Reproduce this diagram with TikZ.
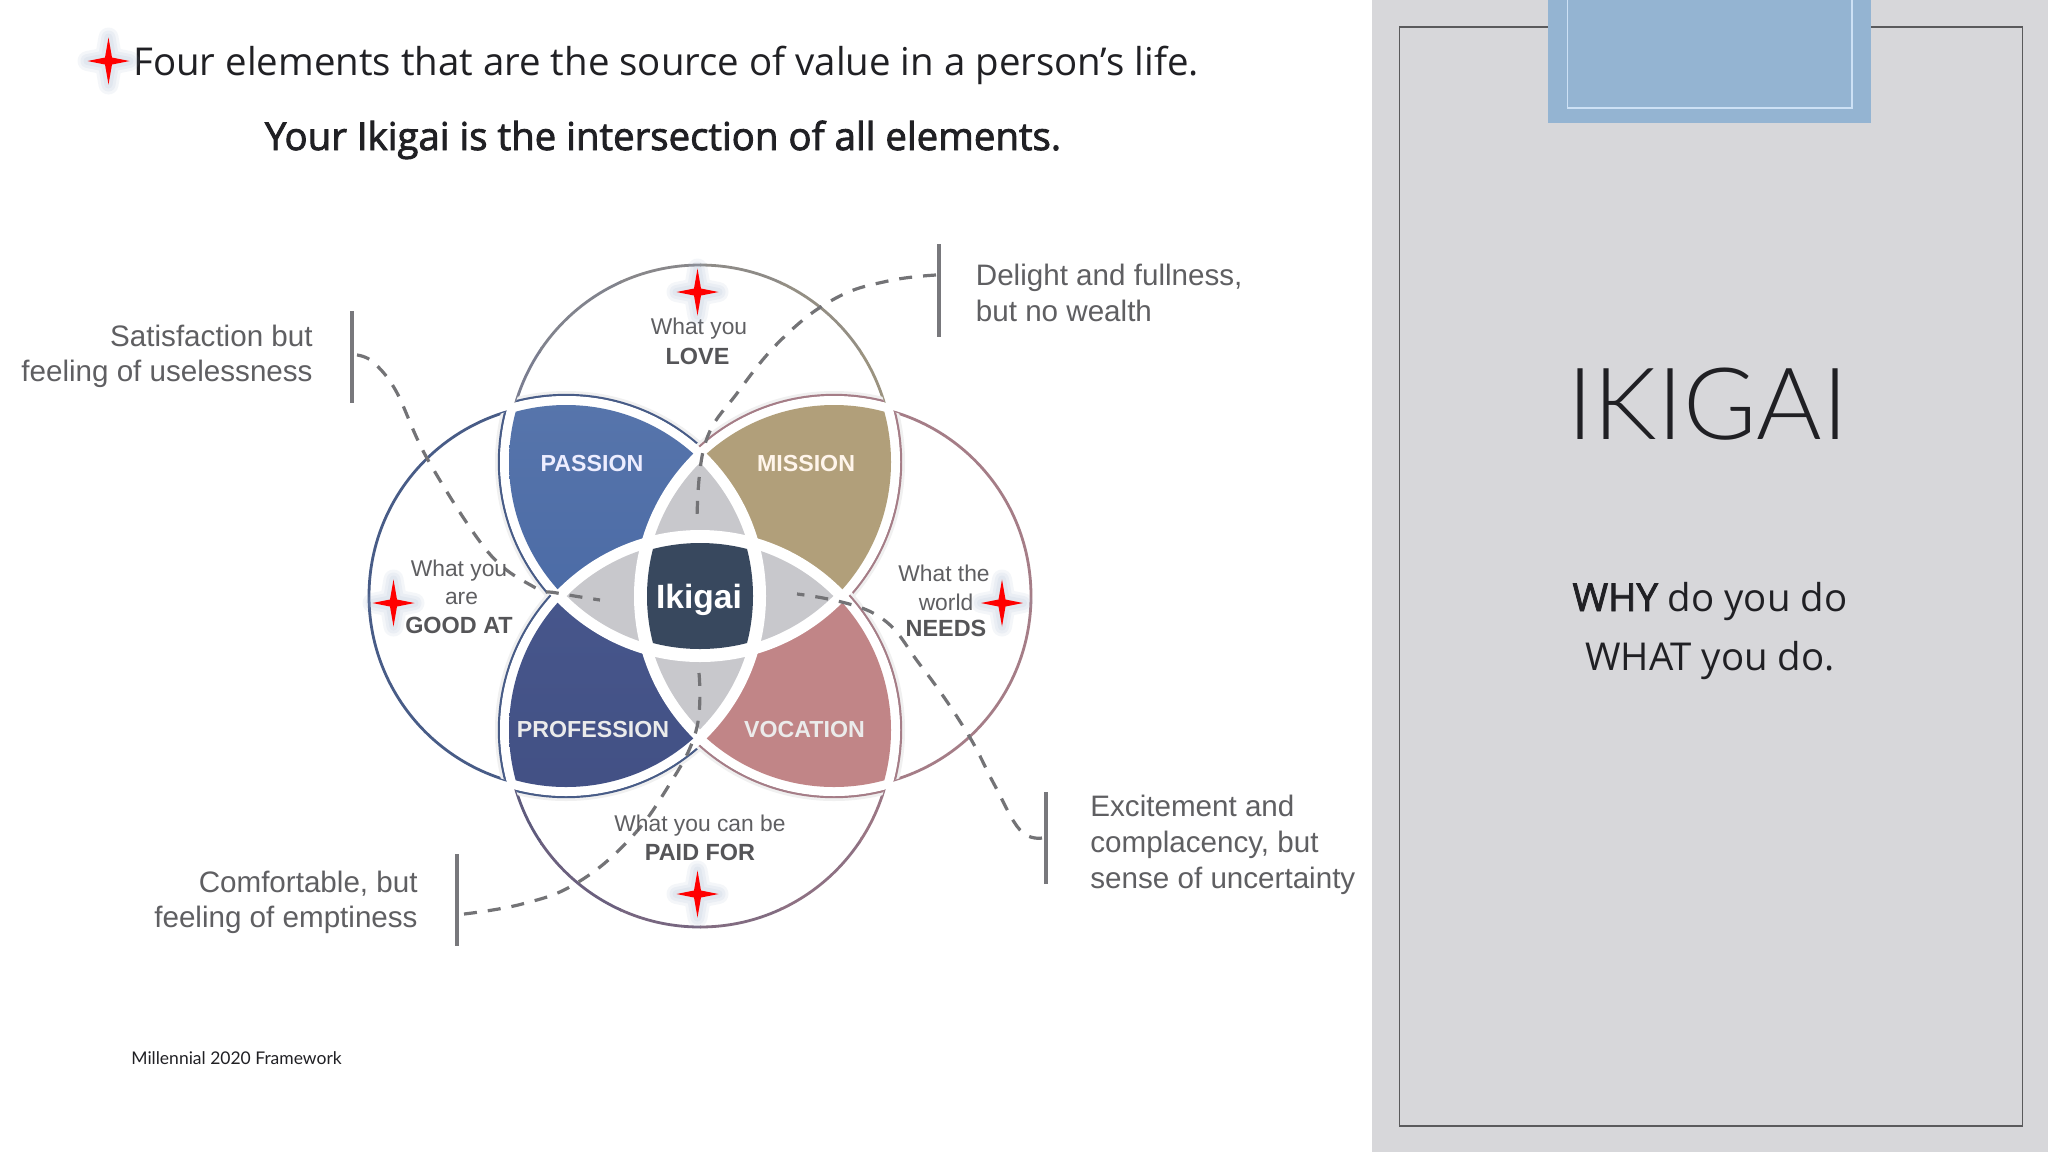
\documentclass[tikz,border=0pt]{standalone}
\usepackage{fontspec}
\setmainfont{Liberation Sans}
\newfontfamily\titlef{Open Sans}
\newfontfamily\titlefb[FakeBold=2.2]{Open Sans}
\newfontfamily\thinf{Lato Light}
\newfontfamily\smallf{Lato}
\definecolor{panelc}{RGB}{215,215,218}
\definecolor{tabc}{RGB}{148,180,210}
\definecolor{tabline}{RGB}{205,225,245}
\definecolor{framec}{RGB}{90,90,92}
\definecolor{inkc}{RGB}{32,32,36}
\definecolor{labelc}{RGB}{95,95,98}
\definecolor{barc}{RGB}{120,120,124}
\definecolor{dashc}{RGB}{115,115,118}
\definecolor{navyl}{RGB}{72,92,135}
\definecolor{mauvel}{RGB}{165,125,135}
\definecolor{topl}{RGB}{110,118,150}
\definecolor{topr}{RGB}{168,156,122}
\definecolor{botl}{RGB}{72,80,122}
\definecolor{botr}{RGB}{178,130,135}
\definecolor{passa}{RGB}{88,118,172}
\definecolor{passb}{RGB}{72,104,164}
\definecolor{profa}{RGB}{72,88,142}
\definecolor{profb}{RGB}{66,80,132}
\definecolor{missc}{RGB}{177,159,122}
\definecolor{vocc}{RGB}{193,133,135}
\definecolor{petalc}{RGB}{200,200,204}
\definecolor{corec}{RGB}{56,72,94}
\definecolor{glowc}{RGB}{150,170,200}
\newcommand{\CT}[1]{(700,462) circle [radius={(197+#1)*0.5pt}]}
\newcommand{\CB}[1]{(700,730) circle [radius={(197+#1)*0.5pt}]}
\newcommand{\CL}[1]{(566,596) circle [radius={(197+#1)*0.5pt}]}
\newcommand{\CR}[1]{(834,596) circle [radius={(197+#1)*0.5pt}]}
% outer rings: slightly smaller circles, further out
\newcommand{\RT}{(700,457) circle [radius=96pt]}
\newcommand{\RB}{(700,735) circle [radius=96pt]}
\newcommand{\RL}{(561,596) circle [radius=96pt]}
\newcommand{\RR}{(839,596) circle [radius=96pt]}
\newcommand{\gradring}[3]{% circle, left colour, right colour
  \foreach \i in {0,...,9}{
    \pgfmathsetmacro{\mixv}{100-\i*11}
    \begin{scope}
      \clip ({300+\i*80},200) rectangle ({300+(\i+1)*80+1},1000);
      \draw[line width=1.4pt,color=#2!\mixv!#3] #1;
    \end{scope}}}
\newcommand{\lensfill}[3]{\begin{scope}\clip #1;\fill[#3] #2;\end{scope}}
% #1 ring, #2 cut circle lying across it, #3 colour
\newcommand{\cutarc}[3]{%
  \begin{scope}\clip #1;\draw[line width=4pt,black!6] #2;\draw[line width=1.2pt,#3] #2;\end{scope}}
\newcommand{\sparkle}[1]{%
  \begin{scope}[shift={(#1)}]
    \foreach \w in {10,7,4}{
      \draw[glowc,opacity=.10,line width=\w pt,line join=round]
        (-21,0)--(-3.5,-3.5)--(0,-23.5)--(3.5,-3.5)--(21,0)--(3.5,3.5)--(0,23.5)--(-3.5,3.5)--cycle;}
    \fill[red] (-21,0)--(-3.5,-3.5)--(0,-23.5)--(3.5,-3.5)--(21,0)--(3.5,3.5)--(0,23.5)--(-3.5,3.5)--cycle;
  \end{scope}}
\tikzset{
  inner/.style={font=\fontsize{11.4}{13}\selectfont,text=labelc,inner sep=0pt},
  innerb/.style={font=\fontsize{11.7}{13}\selectfont\bfseries,text=labelc!90!black,inner sep=0pt},
  petal/.style={font=\fontsize{11.6}{13}\selectfont\bfseries,text=white!92!black,inner sep=0pt},
  sidel/.style={font=\fontsize{14.8}{17}\selectfont,text=labelc,inner sep=0pt},
  barline/.style={barc,line width=1.8pt},
  dashline/.style={dashc,line width=1.6pt,dash pattern=on 6.5pt off 5.5pt},
  titlet/.style={font=\titlef\fontsize{19.2}{22}\selectfont,text=inkc,inner sep=0pt},
  sidet/.style={font=\titlef\fontsize{19.2}{24}\selectfont,text=inkc,inner sep=0pt}
}
\begin{document}
\begin{tikzpicture}[x=0.5pt,y=-0.5pt]
\useasboundingbox (0,0) rectangle (2048,1152);
\fill[white] (0,0) rectangle (2048,1152);
% right panel
\fill[panelc] (1372,0) rectangle (2048,1152);
\draw[framec,line width=0.6pt] (1399.5,27) rectangle (2022.5,1126);
\fill[tabc] (1548,0) rectangle (1871,123);
\draw[tabline,line width=0.6pt] (1567.5,-2) -- (1567.5,108) -- (1852,108) -- (1852,-2);
\node[anchor=base,font=\thinf\fontsize{50}{56}\selectfont,text=inkc,inner sep=0pt] (ttl) at (1708,439) {IKIGAI};
\node[anchor=base,sidet] (why) at (1710,611) {{\titlefb WHY} do you do};
\node[anchor=base,sidet] (what) at (1710,670) {WHAT you do.};
% heading
\node[anchor=base west,titlet] (h1) at (133,75) {Four elements that are the source of value in a person’s life.};
\node[anchor=base,font=\titlefb\fontsize{19.2}{22}\selectfont,text=inkc,inner sep=0pt] (h2) at (663,150) {Your Ikigai is the intersection of all elements.};
\node[anchor=base west,font=\smallf\fontsize{8.75}{12}\selectfont,text=inkc,inner sep=0pt] (src) at (131,1064) {Millennial 2020 Framework};
% outer rings
\gradring{\RT}{topl}{topr}
\gradring{\RB}{botl}{botr}
\draw[navyl,line width=1.4pt] \RL;
\draw[mauvel,line width=1.4pt] \RR;
% cut arcs of the crescents
\cutarc{\RT}{\CL{4}}{navyl}
\cutarc{\RL}{\CT{4}}{navyl}
\cutarc{\RB}{\CL{4}}{navyl}
\cutarc{\RL}{\CB{4}}{navyl}
\cutarc{\RT}{\CR{4}}{mauvel}
\cutarc{\RR}{\CT{4}}{mauvel}
\cutarc{\RB}{\CR{4}}{mauvel}
\cutarc{\RR}{\CB{4}}{mauvel}
% white lenses
\lensfill{\CT{3}}{\CL{3}}{white}
\lensfill{\CT{3}}{\CR{3}}{white}
\lensfill{\CB{3}}{\CL{3}}{white}
\lensfill{\CB{3}}{\CR{3}}{white}
\lensfill{\CT{3}}{\CB{3}}{white}
\lensfill{\CL{3}}{\CR{3}}{white}
% coloured petals
\begin{scope}\clip \CT{-6};\clip \CL{-6};\shade[top color=passa,bottom color=passb] (480,380) rectangle (760,660);\end{scope}
\begin{scope}\clip \CB{-6};\clip \CL{-6};\shade[top color=profa,bottom color=profb] (480,530) rectangle (760,810);\end{scope}
\lensfill{\CT{-6}}{\CR{-6}}{missc}
\lensfill{\CB{-6}}{\CR{-6}}{vocc}
\lensfill{\CT{3}}{\CB{3}}{white}
\lensfill{\CL{3}}{\CR{3}}{white}
% grey leaves
\lensfill{\CT{-8}}{\CB{-8}}{petalc}
\lensfill{\CL{-8}}{\CR{-8}}{petalc}
% core
\begin{scope}\clip \CT{3};\clip \CB{3};\clip \CL{3};\fill[white] \CR{3};\end{scope}
\begin{scope}\clip \CT{-10};\clip \CB{-10};\clip \CL{-10};\fill[corec] \CR{-10};\end{scope}
% brackets and dashed connectors
\coordinate (a0) at (357,355); \coordinate (a1) at (600,600);
\coordinate (b0) at (936,275); \coordinate (b1) at (697,522);
\coordinate (c0) at (1042,838); \coordinate (c1) at (797,594);
\coordinate (d0) at (464,914); \coordinate (d1) at (699,673);
\coordinate (at) at (352,311); \coordinate (ab) at (352,403);
\coordinate (bt) at (939,244); \coordinate (bb) at (939,337);
\coordinate (ct) at (1046,792); \coordinate (cb) at (1046,884);
\coordinate (dt) at (457,854); \coordinate (db) at (457,946);
\draw[barline] (at) -- (ab);
\draw[barline] (bt) -- (bb);
\draw[barline] (ct) -- (cb);
\draw[barline] (dt) -- (db);
\draw[dashline] plot[smooth,tension=.6] coordinates {(a0) (373,362) (396,391) (428,460) (488,552) (534,587) (557,593) (a1)};
\draw[dashline] plot[smooth,tension=.7] coordinates {(b0) (888,281) (836,298) (784,337) (738,392) (705,444) (b1)};
\draw[dashline] plot[smooth,tension=.7] coordinates {(c0) (1020,830) (994,784) (966,731) (921,666) (875,614) (c1)};
\draw[dashline] plot[smooth,tension=.7] coordinates {(d0) (522,904) (575,884) (627,842) (666,790) (696,731) (d1)};
% petal labels
\node[petal,text=white!93!blue] (np) at (592,464) {PASSION};
\node[petal,text=white!92!orange] (nm) at (806,464) {MISSION};
\node[petal] (npr) at (593,729) {PROFESSION};
\node[petal] (nv) at (804.5,729) {VOCATION};
\node[font=\fontsize{16.8}{20}\selectfont\bfseries,text=white,inner sep=0pt] (nc) at (699,599.5) {Ikigai};
% inner labels
\node[inner] (l1) at (699,329) {What you};
\node[innerb] (l2) at (697.5,356) {LOVE};
\node[inner] (g1) at (459,571) {What you};
\node[inner] (g2) at (461.5,598) {are};
\node[innerb] (g3) at (459,625) {GOOD AT};
\node[inner] (n1) at (944,573) {What the};
\node[inner] (n2) at (946,602) {world};
\node[innerb] (n3) at (946,628) {NEEDS};
\node[inner] (p1) at (700,826) {What you can be};
\node[innerb] (p2) at (700,852) {PAID FOR};
% side labels
\node[sidel,anchor=base east] (s1) at (313,346) {Satisfaction but};
\node[sidel,anchor=base east] (s2) at (313,381) {feeling of uselessness};
\node[sidel,anchor=base west] (s3) at (975.5,285) {Delight and fullness,};
\node[sidel,anchor=base west] (s4) at (975.5,321) {but no wealth};
\node[sidel,anchor=base west] (s5) at (1090,816) {Excitement and};
\node[sidel,anchor=base west] (s6) at (1090,852) {complacency, but};
\node[sidel,anchor=base west] (s7) at (1090,888) {sense of uncertainty};
\node[sidel,anchor=base east] (s8) at (418,892) {Comfortable, but};
\node[sidel,anchor=base east] (s9) at (418,927) {feeling of emptiness};
% stars
\sparkle{108.5,61}
\sparkle{697.5,292}
\sparkle{393.5,603}
\sparkle{1002,603}
\sparkle{697.5,894}
\end{tikzpicture}
\end{document}
